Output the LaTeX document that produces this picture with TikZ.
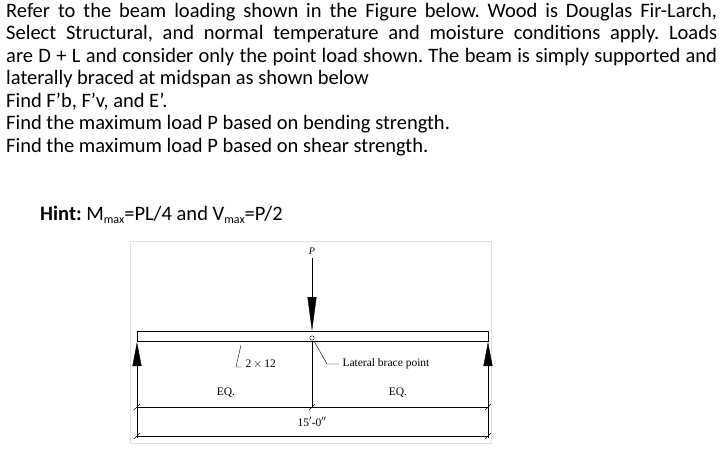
\documentclass[tikz,border=0pt]{standalone}
\usepackage{fontspec}
\setmainfont{Carlito}
\newfontfamily\figfont{Liberation Serif}
\usetikzlibrary{arrows.meta}
\newcommand\lowsub[1]{\raisebox{-0.3ex}{\fontsize{12}{12}\selectfont #1}}
\frenchspacing
\begin{document}
\begin{tikzpicture}[x=1pt,y=-1pt,
	dim/.style={thin},
	tick/.style={thin},
	lbl/.style={font=\figfont\fontsize{11.5}{12}\selectfont}]
	\useasboundingbox (0,0) rectangle (726,455);
	\node[anchor=north west,text width=711pt,align=justify,inner sep=0pt,font=\fontsize{20.5}{22.5}\selectfont] (txt) at (6,3) {Refer to the beam loading shown in the Figure below. Wood is Douglas Fir-Larch,\linebreak Select Structural, and normal temperature and moisture conditions apply. Loads\linebreak are D + L and consider only the point load shown. The beam is simply supported and\linebreak laterally braced at midspan as shown below\par\raggedright
	Find F'b, F'v, and E'.\\
	Find the maximum load P based on bending strength.\\
	Find the maximum load P based on shear strength.};
	\node[anchor=west,inner sep=0pt,font=\fontsize{20.5}{22}\selectfont] (hint) at (40,215) {\textbf{Hint:} M\lowsub{max}=PL/4 and V\lowsub{max}=P/2};
	% figure frame
	\draw[black!12] (130,241) rectangle (491,443);
	% beam
	\draw[thick] (137,331) rectangle (488,341);
	\coordinate (mid) at (312,341);
	% load
	\node[lbl,font=\figfont\itshape\fontsize{10}{10}\selectfont] (P) at (312,251) {P};
	\draw[thin,-{Triangle[length=34pt,width=9pt]}] (P) -- (312,331);
	\draw[thin] (mid) -- (312,407);
	\draw (312,338) circle (2.2);
	% supports
	\foreach \x in {137,488}
		\draw[thin,-{Triangle[length=24pt,width=9pt]}] (\x,438) -- (\x,342);
	% dimensions
	\draw[dim] (137,407) -- (488,407);
	\draw[dim] (137,436) -- (488,436);
	\foreach \x/\y in {137/407,312/407,488/407,137/436,488/436}
		\draw[tick] (\x-3,\y+3) -- (\x+3,\y-3);
	\node[lbl] (eqa) at (226,393) {EQ.};
	\node[lbl] (eqb) at (398,393) {EQ.};
	\node[lbl] (span) at (312,422) {15$'$-0$''$};
	% labels
	\node[lbl,anchor=west] (size) at (242,364) {2\,$\times$\,12};
	\draw[thin] (236,367) -- (242,367) (236,367) -- (241,345);
	\node[lbl,anchor=west] (brace) at (339,364) {Lateral brace point};
	\draw[thin] (brace.west) -- (327,364) -- (314,341);
\end{tikzpicture}
\end{document}
